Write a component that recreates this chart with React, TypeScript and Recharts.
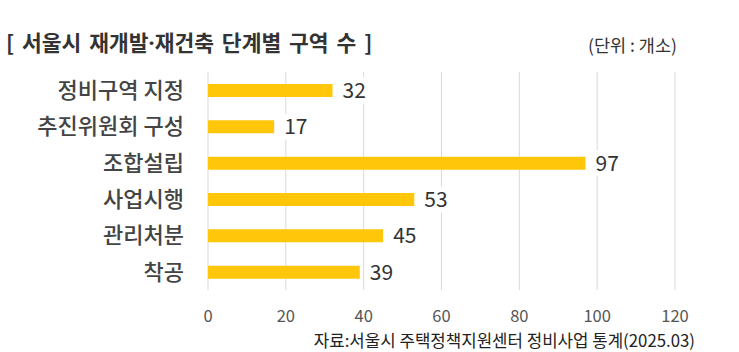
import React from "react";
import { BarChart, Bar, XAxis, YAxis, CartesianGrid, LabelList } from "recharts";

const categories = ["정비구역 지정", "추진위원회 구성", "조합설립", "사업시행", "관리처분", "착공"];
const values = [32, 17, 97, 53, 45, 39];
const xTicks = [0, 20, 40, 60, 80, 100, 120];
const titleParts = ["[ 서울시 재개발", "·", "재건축 단계별 구역 수 ]"];
const unitText = "(단위 : 개소)";
const sourceText = "자료:서울시 주택정책지원센터 정비사업 통계(2025.03)";

const data = categories.map((c, i) => ({ name: c, value: values[i] }));

const FONT = "'Noto Sans CJK KR', 'Noto Sans', sans-serif";

const ValueLabel = (props: any) => {
  const { x, y, width, height, value } = props;
  const tx = x + width + 10;
  const cy = y + height / 2;
  const w = String(value).length * 12 + 4;
  return (
    <g>
      <rect x={tx - 2} y={cy - 13} width={w} height={26} fill="#ffffff" />
      <text x={tx} y={cy} dy="0.36em" fontSize={21} fill="#333" fontFamily={FONT}>
        {value}
      </text>
    </g>
  );
};

export default function App() {
  return (
    <div style={{ position: "absolute", left: 0, top: 0, width: 739, height: 352, background: "#fff", fontFamily: FONT }}>
      <div style={{ position: "absolute", left: 6, top: 28, fontSize: 21.5, fontWeight: 700, color: "#333", whiteSpace: "nowrap", lineHeight: "28px", wordSpacing: 3 }}>
        {titleParts[0]}
        <span style={{ fontFamily: "'Noto Sans', sans-serif" }}>{titleParts[1]}</span>
        {titleParts[2]}
      </div>
      <div style={{ position: "absolute", left: 588, top: 33, fontSize: 17.5, color: "#333", whiteSpace: "nowrap", lineHeight: "24px" }}>
        {unitText}
      </div>
      <BarChart
        width={739}
        height={352}
        data={data}
        layout="vertical"
        margin={{ top: 72, right: 64, bottom: 32, left: 0 }}
        barCategoryGap={0}
      >
        <CartesianGrid horizontal={false} stroke="#d9d9d9" />
        <XAxis
          type="number"
          domain={[0, 120]}
          ticks={xTicks}
          axisLine={false}
          tickLine={false}
          height={30}
          tickMargin={14}
          tick={{ fontSize: 16.5, fill: "#555", fontFamily: FONT }}
          interval={0}
        />
        <YAxis
          type="category"
          dataKey="name"
          width={208}
          axisLine={false}
          tickLine={false}
          tickSize={0}
          tickMargin={24}
          interval={0}
          tick={{ fontSize: 22, fill: "#444", fontFamily: FONT, fontWeight: 500 }}
        />
        <Bar dataKey="value" fill="#FFC60A" barSize={13} isAnimationActive={false}>
          <LabelList dataKey="value" content={<ValueLabel />} />
        </Bar>
      </BarChart>
      <div style={{ position: "absolute", right: 44, top: 328, fontSize: 16.8, color: "#222", whiteSpace: "nowrap", lineHeight: "24px" }}>
        {sourceText}
      </div>
    </div>
  );
}
